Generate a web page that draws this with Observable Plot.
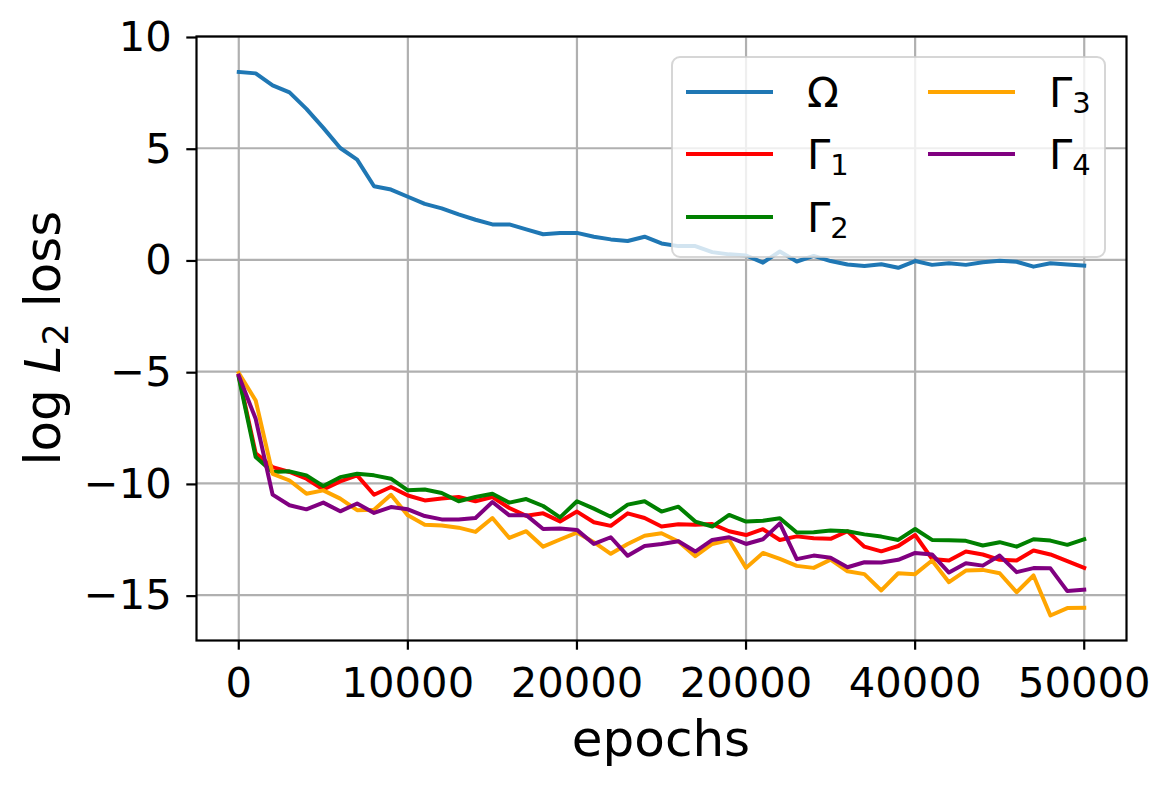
<!DOCTYPE html>
<html>
<head>
<meta charset="utf-8">
<script src="https://cdn.jsdelivr.net/npm/d3@7"></script>
<script src="https://cdn.jsdelivr.net/npm/@observablehq/plot@0.6"></script>
<style>
  html, body { margin: 0; padding: 0; background: #fff; }
  #chart { width: 1170px; height: 786px; }
  svg { font-family: "DejaVu Sans", sans-serif; }
</style>
</head>
<body>
<div id="chart"></div>
<script>
// ---- data ----
const epochs = d3.range(0, 50001, 1000);
const seriesNames = ["Ω", "Γ1", "Γ2", "Γ3", "Γ4"];
const seriesColors = ["#1f77b4", "red", "green", "orange", "purple"];

const omega = [8.41, 8.35, 7.81, 7.50, 6.76, 5.91, 5.01, 4.49, 3.30, 3.15, 2.83, 2.51, 2.31, 2.04, 1.80, 1.59, 1.59, 1.37, 1.15, 1.21, 1.21, 1.04, 0.92, 0.85, 1.04, 0.74, 0.62, 0.62, 0.35, 0.25, 0.20, -0.12, 0.38, -0.07, 0.18, -0.05, -0.20, -0.27, -0.19, -0.35, -0.05, -0.22, -0.15, -0.22, -0.10, -0.04, -0.08, -0.30, -0.15, -0.20, -0.25];
const gamma1 = [-5.18, -8.65, -9.27, -9.49, -9.79, -10.27, -9.91, -9.64, -10.51, -10.16, -10.54, -10.76, -10.68, -10.61, -10.80, -10.61, -11.10, -11.45, -11.34, -11.70, -11.26, -11.74, -11.90, -11.34, -11.55, -11.93, -11.83, -11.85, -11.82, -12.14, -12.31, -12.05, -12.53, -12.37, -12.45, -12.48, -12.14, -12.83, -13.04, -12.80, -12.31, -13.38, -13.45, -13.05, -13.18, -13.42, -13.45, -13.00, -13.18, -13.48, -13.78];
const gamma2 = [-5.25, -8.82, -9.49, -9.46, -9.64, -10.12, -9.72, -9.57, -9.64, -9.79, -10.31, -10.27, -10.43, -10.80, -10.61, -10.46, -10.86, -10.70, -11.01, -11.52, -10.80, -11.13, -11.49, -10.95, -10.80, -11.26, -11.04, -11.71, -11.93, -11.41, -11.71, -11.67, -11.56, -12.20, -12.19, -12.11, -12.14, -12.28, -12.38, -12.53, -12.04, -12.53, -12.54, -12.57, -12.78, -12.63, -12.83, -12.50, -12.56, -12.75, -12.50];
const gamma3 = [-5.06, -6.29, -9.57, -9.87, -10.46, -10.31, -10.68, -11.20, -11.18, -10.51, -11.43, -11.85, -11.88, -11.98, -12.17, -11.55, -12.44, -12.14, -12.83, -12.51, -12.20, -12.63, -13.15, -12.71, -12.34, -12.23, -12.60, -13.26, -12.71, -12.53, -13.78, -13.11, -13.38, -13.69, -13.78, -13.41, -13.93, -14.06, -14.79, -14.02, -14.06, -13.45, -14.42, -13.90, -13.87, -14.02, -14.87, -14.12, -15.91, -15.58, -15.57];
const gamma4 = [-5.18, -7.11, -10.50, -10.98, -11.16, -10.86, -11.25, -10.90, -11.32, -11.06, -11.16, -11.46, -11.61, -11.61, -11.55, -10.83, -11.43, -11.42, -12.04, -12.02, -12.08, -12.71, -12.41, -13.24, -12.80, -12.71, -12.59, -13.05, -12.53, -12.41, -12.71, -12.50, -11.79, -13.39, -13.23, -13.33, -13.75, -13.53, -13.54, -13.42, -13.11, -13.18, -13.99, -13.57, -13.68, -13.23, -13.97, -13.79, -13.80, -14.82, -14.76];

const xTicks = [0, 10000, 20000, 30000, 40000, 50000];
const xTickLabels = ["0", "10000", "20000", "20000", "40000", "50000"];
const yTicks = [-15, -10, -5, 0, 5, 10];

// ---- build table ----
const allSeries = [omega, gamma1, gamma2, gamma3, gamma4];
const rows = [];
allSeries.forEach((vals, s) => {
  vals.forEach((v, i) => rows.push({epoch: epochs[i], loss: v, series: seriesNames[s]}));
});

const fmtY = d => (d < 0 ? "\u2212" + Math.abs(d) : String(d));

const chart = Plot.plot({
  width: 1170,
  height: 786,
  marginLeft: 196,
  marginRight: 44,
  marginTop: 36,
  marginBottom: 146,
  style: {fontFamily: "DejaVu Sans, sans-serif", background: "#fff", overflow: "visible"},
  x: {domain: [-2500, 52500]},
  y: {domain: [-17.03, 10]},
  color: {domain: seriesNames, range: seriesColors},
  marks: [
    Plot.gridX(xTicks, {stroke: "#b0b0b0", strokeOpacity: 1, strokeWidth: 2.2}),
    Plot.gridY(yTicks, {stroke: "#b0b0b0", strokeOpacity: 1, strokeWidth: 2.2}),
    Plot.line(rows, {x: "epoch", y: "loss", z: "series", stroke: "series", strokeWidth: 4, strokeLinejoin: "round", strokeLinecap: "square"}),
    Plot.frame({stroke: "black", strokeWidth: 2.2}),
    Plot.axisX(xTicks, {tickFormat: d => xTickLabels[xTicks.indexOf(d)], tickSize: 9.7, tickPadding: 17, fontSize: 41.7, label: null, strokeWidth: 2.2, color: "black"}),
    Plot.axisY(yTicks, {tickFormat: fmtY, tickSize: 9.7, tickPadding: 15, fontSize: 41.7, label: null, strokeWidth: 2.2, color: "black", dy: 1})
  ]
});
document.getElementById("chart").appendChild(chart);

const svg = d3.select(chart);

// axis titles
svg.append("text")
  .attr("x", 661).attr("y", 756)
  .attr("text-anchor", "middle")
  .attr("font-size", 50).attr("fill", "black")
  .text("epochs");

const yl = svg.append("text")
  .attr("transform", "translate(60,338) rotate(-90)")
  .attr("text-anchor", "middle")
  .attr("font-size", 50).attr("fill", "black");
yl.append("tspan").text("log ");
yl.append("tspan").attr("font-style", "italic").text("L");
yl.append("tspan").attr("font-size", 35).attr("dy", 8).text("2");
yl.append("tspan").attr("dy", -8).text(" loss");

// legend
const lg = svg.append("g");
lg.append("rect")
  .attr("x", 672).attr("y", 57).attr("width", 433).attr("height", 200)
  .attr("rx", 8).attr("fill", "white").attr("fill-opacity", 0.8)
  .attr("stroke", "#cccccc").attr("stroke-opacity", 0.8).attr("stroke-width", 2);
const legendPos = [
  {lx: 686, ty: 92}, {lx: 686, ty: 154}, {lx: 686, ty: 217},
  {lx: 928, ty: 92}, {lx: 928, ty: 154}
];
seriesNames.forEach((name, i) => {
  const p = legendPos[i];
  lg.append("line")
    .attr("x1", p.lx).attr("x2", p.lx + 87)
    .attr("y1", p.ty).attr("y2", p.ty)
    .attr("stroke", seriesColors[i]).attr("stroke-width", 4);
  const t = lg.append("text")
    .attr("x", p.lx + 121).attr("y", p.ty + 15)
    .attr("text-anchor", "start")
    .attr("font-size", 41.7).attr("fill", "black");
  t.append("tspan").text(name[0]);
  if (name.length > 1) {
    t.append("tspan").attr("font-size", 29).attr("dy", 6).text(name.slice(1));
  }
});
</script>
</body>
</html>
